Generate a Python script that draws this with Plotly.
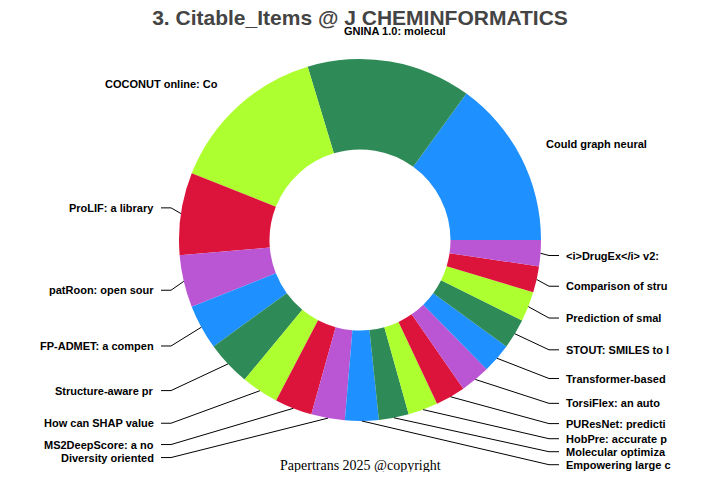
import math
import plotly.graph_objects as go

titles = [
    "Could graph neural",
    "GNINA 1.0: molecul",
    "COCONUT online: Co",
    "ProLIF: a library",
    "patRoon: open sour",
    "FP-ADMET: a compen",
    "Structure-aware pr",
    "How can SHAP value",
    "MS2DeepScore: a no",
    "Diversity oriented",
    "Empowering large c",
    "Molecular optimiza",
    "HobPre: accurate p",
    "PUResNet: predicti",
    "TorsiFlex: an auto",
    "Transformer-based",
    "STOUT: SMILES to I",
    "Prediction of smal",
    "Comparison of stru",
    "&lt;i&gt;DrugEx&lt;/i&gt; v2:",
]
citable_items = [45, 44, 43, 22, 14, 12, 12, 10, 10, 9, 9, 8, 8, 8, 8, 8, 8, 8, 7, 7]

colors = ["#1E90FF", "#2E8B57", "#ADFF2F", "#DC143C", "#BA55D3"]
slice_colors = [colors[i % len(colors)] for i in range(len(titles))]

# figure is 704x464 so it sits inside the 720x480 window with the 8px body margin
W, H = 704, 464
CX, CY, R = 352, 232, 181
LABEL_R = {1: R + 31, -1: R + 39}
GAP = 13


def paper(px, py):
    return px / W, 1 - py / H


total = sum(citable_items)
# plotly counterclockwise: first slice ends at the rotation angle -> make it start at 3 o'clock
start = 90 - 360 * citable_items[0] / total

fig = go.Figure(go.Pie(
    labels=titles,
    values=citable_items,
    hole=0.5,
    sort=False,
    direction="counterclockwise",
    rotation=start,
    marker=dict(colors=slice_colors),
    textinfo="none",
    hoverinfo="label+value",
    showlegend=False,
    domain=dict(x=[(CX - R) / W, (CX + R) / W], y=[(H - CY - R) / H, (H - CY + R) / H]),
))

# label layout: big top slices get a free label, the rest go into side columns
labels = []
cum = 0
for name, v in zip(titles, citable_items):
    a = (cum + v / 2) / total * 2 * math.pi
    cum += v
    side = 1 if math.cos(a) >= 0 else -1
    labels.append(dict(text=name, a=a, y=CY - LABEL_R[side] * math.sin(a)))

annotations = []
shapes = []
left, right = [], []
for lb in labels:
    c, s = math.cos(lb["a"]), math.sin(lb["a"])
    if s > 0.4:
        x, y = paper(CX + (R + 26) * c, CY - (R + 31) * s)
        anchor = "left" if c > 0.3 else ("right" if c < -0.3 else "center")
        annotations.append(dict(text="<b>" + lb["text"] + "</b>", x=x, y=y, xanchor=anchor,
                                yanchor="middle", showarrow=False))
    elif c >= 0:
        right.append(lb)
    else:
        left.append(lb)

for side, sign in ((right, 1), (left, -1)):
    side.sort(key=lambda d: d["y"])
    prev = None
    for lb in side:
        if prev is not None and lb["y"] < prev + GAP:
            lb["y"] = prev + GAP
        prev = lb["y"]
        ex, ey = CX + R * math.cos(lb["a"]), CY - R * math.sin(lb["a"])
        kx = CX + sign * (R + 8)
        hx = CX + sign * (R + 18)
        p0, p1, p2 = paper(ex, ey), paper(kx, lb["y"]), paper(hx, lb["y"])
        shapes.append(dict(type="path", xref="paper", yref="paper",
                           path=f"M{p0[0]},{p0[1]} L{p1[0]},{p1[1]} L{p2[0]},{p2[1]}",
                           line=dict(color="black", width=1)))
        tx, ty = paper(CX + sign * (R + 23), lb["y"])
        annotations.append(dict(text="<b>" + lb["text"] + "</b>", x=tx, y=ty,
                                xanchor="left" if sign > 0 else "right",
                                yanchor="middle", showarrow=False))

for an in annotations:
    an.update(xref="paper", yref="paper", font=dict(family="Arial", size=11, color="black"))

fx, fy = paper(CX, 457)
annotations.append(dict(text="Papertrans 2025 @copyright", x=fx, y=fy, xref="paper", yref="paper",
                        yanchor="middle", showarrow=False,
                        font=dict(family="Times New Roman", size=14, color="black")))

fig.update_layout(
    width=W,
    height=H,
    title=dict(text="<b>3. Citable_Items @ J CHEMINFORMATICS</b>", x=CX / W, xanchor="center",
               y=1 - 9.5 / H, yanchor="middle", font=dict(family="Arial", size=21, color="#444")),
    margin=dict(l=0, r=0, t=0, b=0),
    paper_bgcolor="white",
    annotations=annotations,
    shapes=shapes,
)

fig.write_html("out.html")
